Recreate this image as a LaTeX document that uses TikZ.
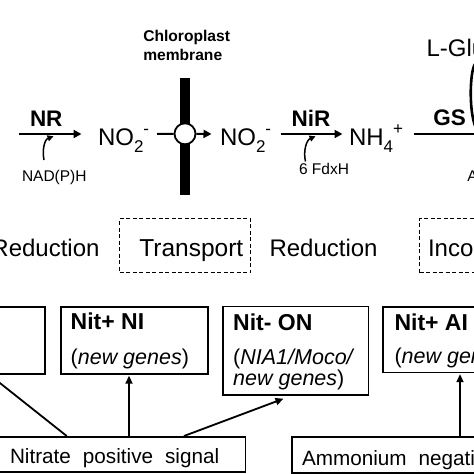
\documentclass[tikz,border=0pt]{standalone}
\usepackage{fontspec}
\setmainfont{Liberation Sans}
\usetikzlibrary{arrows.meta,calc}
\newcommand\fsz[1]{\fontsize{#1bp}{#1bp}\selectfont}
\newcommand\chemsub[1]{{\fsz{17}\raisebox{-7bp}{#1}}}
\newcommand\chemsup[1]{{\fsz{17}\raisebox{11bp}{#1}}}
\tikzset{
  lbl/.style={inner sep=0pt, outer sep=0pt, anchor=base west},
  big/.style={lbl, font=\fsz{24}},
  enz/.style={lbl, font=\bfseries\fsz{22.5}},
  small/.style={lbl, font=\fsz{15.5}},
  memb/.style={lbl, font=\bfseries\fsz{15.6}},
  boxhead/.style={lbl, font=\bfseries\fsz{23}},
  boxgene/.style={lbl, font=\fsz{21.5}},
  sigtext/.style={lbl, font=\fsz{20.7}},
  rxn/.style={line width=2bp, -{Triangle[length=8bp,width=8bp]}},
  rxnline/.style={line width=2bp},
  cof/.style={line width=1.5bp, -{Triangle[length=6bp,width=6bp]}},
  stage/.style={draw, dash pattern=on 4bp off 2.5bp, line width=1.2bp, inner sep=0pt, anchor=north west},
  gbox/.style={draw, line width=1.7bp, inner sep=0pt, anchor=north west},
  conn/.style={line width=1.8bp},
  connarr/.style={conn, -{Triangle[length=8bp,width=7bp]}},
}
\begin{document}
\begin{tikzpicture}[x=1bp,y=-1bp]
\useasboundingbox (0,0) rectangle (474,474);
\fill[white] (0,0) rectangle (474,474);
\clip (0,0) rectangle (474,474);

% ---------- top pathway ----------
\node[memb] (cm1) at (143.3,41.7) {Chloroplast};
\node[memb] (cm2) at (143.3,60.5) {membrane};

\node[big] (no2a) at (98,146) {NO\chemsub{2}\chemsup{-}};
\node[big] (no2b) at (220,146) {NO\chemsub{2}\chemsup{-}};
\node[big] (nh4) at (349,145.5) {NH\chemsub{4}\chemsup{+}};
\node[big] (lglu) at (426.5,57) {L-Glu};

% NR step
\coordinate (nrs) at (18.5,134);
\coordinate (nre) at (81.5,134);
\draw[rxn] (nrs) -- (nre);
\node[enz] (nr) at (30,126.5) {NR};
\node[small] (nadph) at (22,181.5) {NAD(P)H};
\coordinate (nadtip) at (53.5,136.3);
\draw[cof] (44,160) .. controls (42,150) and (44.5,139.5) .. (nadtip);

% membrane
\fill (180,78) rectangle (190,195);
\node[circle, draw, fill=white, line width=1.8bp, minimum size=21bp, inner sep=0pt] (pore) at (185,133.8) {};
\coordinate (trs) at (157,134);
\coordinate (tre) at (211.5,134);
\draw[rxnline] (trs) -- (pore.west);
\draw[rxn] (pore.east) -- (tre);

% NiR step
\coordinate (nirs) at (280.5,134);
\coordinate (nire) at (342.5,134);
\draw[rxn] (nirs) -- (nire);
\node[enz] (nir) at (291.7,126.5) {NiR};
\node[small] (fdx) at (299,174.5) {6 FdxH};
\coordinate (fdxtip) at (315.5,136.3);
\draw[cof] (305.5,161.5) .. controls (303,151) and (306.5,140) .. (fdxtip);

% GS step
\coordinate (gss) at (414,134);
\coordinate (gse) at (490,134);
\draw[rxnline] (gss) -- (gse);
\node[enz] (gs) at (433.3,125.5) {GS};
\node[small] (atp) at (467.3,181.5) {ATP};
\draw[line width=2.6bp] (475,64) .. controls (469.5,72) and (468.5,116) .. (477,130);

% ---------- stages ----------
\node[lbl, font=\fsz{24}, anchor=base east] (red1) at (99.5,256) {Reduction};
\node[stage, minimum width=131bp, minimum height=54bp] (trbox) at (119,218) {};
\node[lbl, font=\fsz{24.5}] (tr) at (139.3,256) {Transport};
\node[lbl, font=\fsz{24}] (red2) at (269.5,256) {Reduction};
\node[stage, minimum width=130bp, minimum height=54bp] (incbox) at (419,218) {};
\node[lbl, font=\fsz{24}] (inc) at (428,256) {Incorporation};

% ---------- genetic boxes ----------
\node[gbox, minimum width=144bp, minimum height=67bp] (leftbox) at (-100,306) {};
\node[gbox, minimum width=147bp, minimum height=67bp] (nitni) at (60,306) {};
\node[boxhead] (nitnit) at ($(nitni.north west)+(10.7,23)$) {Nit+ NI};
\node[boxgene] (nitnig) at ($(nitni.north west)+(10.7,58.5)$) {(\textit{new genes})};

\node[gbox, minimum width=145.5bp, minimum height=88.5bp] (niton) at (222,305.5) {};
\node[boxhead] (nitont) at ($(niton.north west)+(11.2,24.5)$) {Nit- ON};
\node[boxgene] (nitong1) at ($(niton.north west)+(11.2,59)$) {(\textit{NIA1/Moco/}};
\node[boxgene] (nitong2) at ($(niton.north west)+(11.2,79.5)$) {\textit{new genes})};

\node[gbox, minimum width=140bp, minimum height=65.5bp] (nitai) at (382,306) {};
\node[boxhead] (nitait) at ($(nitai.north west)+(12.5,24)$) {Nit+ AI};
\node[boxgene] (nitaig) at ($(nitai.north west)+(12.5,57.5)$) {(\textit{new genes})};

\node[gbox, minimum width=284.5bp, minimum height=35bp] (nps) at (-40,436) {};
\node[sigtext] (npst) at (10,463.5) {\spaceskip=12bp Nitrate positive signal};
\node[gbox, minimum width=230bp, minimum height=36bp] (ans) at (291,436) {};
\node[sigtext] (anst) at (302,465) {\spaceskip=12bp Ammonium negative signal};

% ---------- connectors ----------
\coordinate (c1s) at ($(nps.north west)+(106.7,0)$);
\coordinate (c1e) at ($(leftbox.south east)+(-55,1)$);
\draw[connarr] (c1s) -- (c1e);
\coordinate (c2s) at ($(nps.north west)+(169,0)$);
\coordinate (c2e) at ($(nitni.south west)+(69,1)$);
\draw[connarr] (c2s) -- (c2e);
\coordinate (c3s) at ($(nps.north west)+(224,0)$);
\coordinate (c3e) at ($(niton.south west)+(61.5,3)$);
\draw[connarr] (c3s) -- (c3e);
\coordinate (c4s) at ($(ans.north west)+(169,0)$);
\coordinate (c4e) at ($(nitai.south west)+(78,1)$);
\draw[connarr] (c4s) -- (c4e);
\end{tikzpicture}
\end{document}
